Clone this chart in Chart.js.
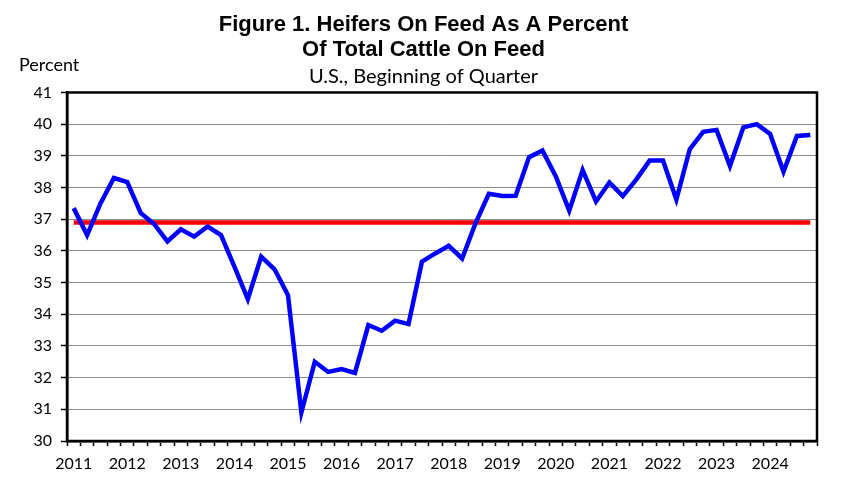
<!DOCTYPE html>
<html>
<head>
<meta charset="utf-8">
<script src="https://cdn.jsdelivr.net/npm/chart.js@4.4.1/dist/chart.umd.min.js"></script>
<style>
  html, body { margin: 0; padding: 0; background: #fff; }
  #wrap { width: 847px; height: 500px; }
</style>
</head>
<body>
<div id="wrap"><canvas id="c" width="847" height="500"></canvas></div>
<script>
// ---- data ----
const years = ['2011','2012','2013','2014','2015','2016','2017','2018','2019','2020','2021','2022','2023','2024'];
const quarters = ['Q1','Q2','Q3','Q4'];
const heifersPct = [
  37.35, 36.5, 37.5, 38.3,
  38.17, 37.2, 36.85, 36.3,
  36.68, 36.45, 36.77, 36.5,
  35.5, 34.48, 35.82, 35.42,
  34.6, 30.9, 32.5, 32.18,
  32.27, 32.15, 33.66, 33.48,
  33.8, 33.69, 35.66, 35.92,
  36.16, 35.76, 36.87, 37.8,
  37.73, 37.74, 38.96, 39.17,
  38.35, 37.27, 38.55, 37.56,
  38.16, 37.73, 38.25, 38.85,
  38.85, 37.62, 39.21, 39.76,
  39.82, 38.68, 39.9, 40.0,
  39.69, 38.5, 39.63, 39.66
];
const averagePct = 36.9;
const yTicksMin = 30, yTicksMax = 41;

const categories = [];
years.forEach(y => quarters.forEach(q => categories.push(y + ' ' + q)));
const averageLine = categories.map(() => averagePct);

const tickFont = { family: 'Lato, "Noto Sans", sans-serif', size: 16 };

const extras = {
  id: 'extras',
  afterDraw(chart) {
    const { ctx, chartArea: a } = chart;
    ctx.save();
    ctx.strokeStyle = '#000';
    ctx.lineWidth = 2.5;
    ctx.strokeRect(a.left, a.top, a.right - a.left, a.bottom - a.top);
    ctx.fillStyle = '#000';
    ctx.font = '18px Lato, "Noto Sans", sans-serif';
    ctx.textBaseline = 'alphabetic';
    ctx.textAlign = 'left';
    ctx.fillText('Percent', 19, 71);
    ctx.restore();
  }
};

new Chart(document.getElementById('c'), {
  type: 'line',
  data: {
    labels: categories,
    datasets: [
      {
        label: 'Average',
        data: averageLine,
        borderColor: '#ff0000',
        borderWidth: 4.5,
        pointRadius: 0,
        tension: 0,
        order: 2
      },
      {
        label: 'Heifers on feed',
        data: heifersPct,
        borderColor: '#0000ff',
        borderWidth: 4.5,
        pointRadius: 0,
        tension: 0,
        order: 1
      }
    ]
  },
  options: {
    responsive: false,
    animation: false,
    devicePixelRatio: 1,
    layout: { padding: { left: 30, right: 30, top: 0, bottom: 0 } },
    plugins: {
      legend: { display: false },
      tooltip: { enabled: false },
      title: {
        display: true,
        text: ['Figure 1. Heifers On Feed As A Percent', 'Of Total Cattle On Feed'],
        color: '#000',
        font: { family: '"Liberation Sans", Arial, sans-serif', size: 22, weight: 'bold', lineHeight: 1.12 },
        padding: { top: 12.5, bottom: 2.5 }
      },
      subtitle: {
        display: true,
        text: 'U.S., Beginning of Quarter',
        color: '#000',
        font: { family: 'Lato, "Noto Sans", sans-serif', size: 20, lineHeight: 1.2 },
        padding: { top: 0, bottom: 4.2 }
      }
    },
    scales: {
      x: {
        type: 'category',
        offset: true,
        grid: {
          offset: true,
          drawOnChartArea: false,
          drawTicks: true,
          tickLength: 5,
          tickColor: '#000',
          tickWidth: 1.5
        },
        border: { display: true, color: '#000', width: 2.5 },
        ticks: {
          autoSkip: false,
          maxRotation: 0,
          minRotation: 0,
          color: '#000',
          font: tickFont,
          padding: 8,
          callback: function(value, index) {
            return index % 4 === 0 ? years[index / 4] : '';
          }
        },
        afterFit(scale) { scale.height = 59; }
      },
      y: {
        min: yTicksMin,
        max: yTicksMax,
        grid: {
          color: '#8c8c8c',
          lineWidth: 1,
          drawTicks: true,
          tickLength: 6,
          tickColor: '#000',
          tickWidth: 1.5
        },
        border: { display: true, color: '#000', width: 2.5 },
        ticks: {
          stepSize: 1,
          color: '#000',
          font: tickFont,
          padding: 9
        },
        afterFit(scale) { scale.width = 37; }
      }
    }
  },
  plugins: [extras]
});
</script>
</body>
</html>
